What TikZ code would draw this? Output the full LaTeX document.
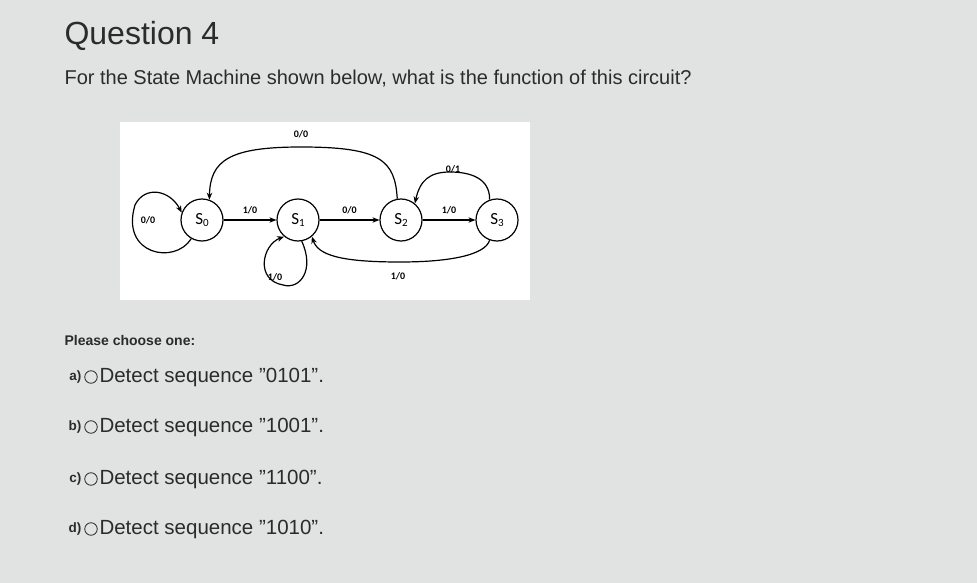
\documentclass[tikz,border=0pt]{standalone}
\usepackage{fontspec}
\setmainfont{Liberation Sans}
\newfontfamily\carlitofont{Carlito}
\usetikzlibrary{arrows.meta}
\definecolor{bg}{HTML}{E1E3E3}
\definecolor{tx}{HTML}{2B2B2B}
\newcommand{\sname}[1]{S\raisebox{-2.5pt}{\fontsize{11}{11}\selectfont #1}}
\begin{document}
\begin{tikzpicture}[x=1pt,y=-1pt,
  st/.style={circle,draw,line width=1.2pt,minimum size=42pt,inner sep=0pt,font=\carlitofont\fontsize{17}{17}\selectfont},
  lb/.style={font=\carlitofont\bfseries\fontsize{10}{10}\selectfont},
  ed/.style={line width=1.2pt,-{Stealth[length=7pt,width=5.5pt]}},
  opt/.style={anchor=west,text=tx,font=\fontsize{20.5}{22}\selectfont},
  rb/.style={circle,draw=tx,line width=0.8pt,minimum size=12.5pt,inner sep=0pt},
  ol/.style={anchor=east,text=tx,font=\bfseries\fontsize{13.5}{14}\selectfont}]
\fill[bg] (0,0) rectangle (977,583);
\useasboundingbox (0,0) rectangle (977,583);
\node[anchor=west,text=tx,font=\fontsize{32}{34}\selectfont] (q) at (61,36) {Question 4};
\node[anchor=west,text=tx,font=\fontsize{20}{22}\selectfont] (p) at (61,79) {For the State Machine shown below, what is the function of this circuit?};
\fill[white] (120,122) rectangle (530,300);
\node[st] (s0) at (202,220) {\sname{0}};
\node[st] (s1) at (298,220) {\sname{1}};
\node[st] (s2) at (401,220) {\sname{2}};
\node[st] (s3) at (497,220) {\sname{3}};
\draw[ed] (s0) -- node[lb,above=2pt]{1/0} (s1);
\draw[ed] (s1) -- node[lb,above=2pt]{0/0} (s2);
\draw[ed] (s2) -- node[lb,above=2pt]{1/0} (s3);
\draw[ed] (s0.-120) .. controls (175,265) and (120,255) .. (135,205) .. controls (145,185) and (170,190) .. (s0.160);
\node[lb] (l00) at (148,220) {0/0};
\draw[ed] (s1.-80) .. controls (315,270) and (300,290) .. (283,285) .. controls (255,280) and (262,245) .. (s1.-130);
\node[lb] (l10) at (275,277) {1/0};
\draw[ed] (s2.100) .. controls (395,160) and (380,147) .. (301,147) .. controls (230,147) and (210,160) .. (s0.70);
\node[lb] (t00) at (301,134) {0/0};
\draw[ed] (s3.110) .. controls (490,178) and (470,172) .. (450,172) .. controls (430,172) and (420,180) .. (s2.50);
\node[lb] (t01) at (453,169) {0/1};
\draw[ed] (s3.-110) .. controls (485,255) and (450,262) .. (400,262) .. controls (340,262) and (318,255) .. (s1.-50);
\node[lb] (b10) at (398,276) {1/0};
\node[anchor=west,text=tx,font=\bfseries\fontsize{14}{14}\selectfont] (pc) at (61,340) {Please choose one:};
\foreach \y/\l/\t [count=\i] in {377/a/0101,427/b/1001,479/c/1100,529/d/1010}{
  \node[rb] (r\i) at (91,\y) {};
  \node[ol] (ol\i) at (85,\y) {\l)};
  \node[opt] (o\i) at (96,\y) {Detect sequence {\char34}\t{\char34}.};
}
\end{tikzpicture}
\end{document}
